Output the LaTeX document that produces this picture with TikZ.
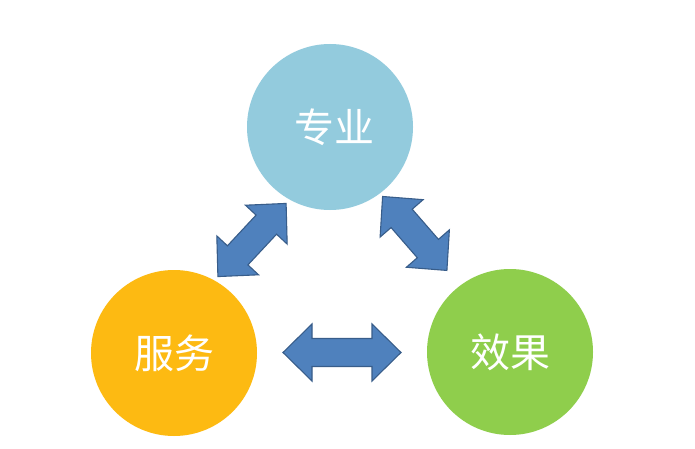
\documentclass[tikz,border=0pt]{standalone}
\usepackage{fontspec}
\usepackage{tikz}
\usetikzlibrary{calc}
\newfontfamily\cjk{Noto Sans CJK SC}

\definecolor{topblue}{RGB}{147,203,221}
\definecolor{goldorange}{RGB}{253,186,18}
\definecolor{leafgreen}{RGB}{143,206,76}
\definecolor{arrowfill}{RGB}{79,129,189}
\definecolor{arrowedge}{RGB}{56,93,138}

\tikzset{
  bubble/.style={circle, minimum size=166pt, inner sep=0pt,
    font=\cjk\fontsize{40}{42}\selectfont, text=white},
  arrowbox/.style={fill=arrowfill, draw=arrowedge, line width=1.1pt, line join=miter},
  pics/dblarrow/.style={code={
    % half length #1, head 29, head half width 28.5, shaft half width 14
    \draw[arrowbox] ({-#1},0) -- ({-#1+29},28.5) -- ({-#1+29},14)
      -- ({#1-29},14) -- ({#1-29},28.5) -- ({#1},0)
      -- ({#1-29},-28.5) -- ({#1-29},-14) -- ({-#1+29},-14)
      -- ({-#1+29},-28.5) -- cycle;
  }}
}

\begin{document}
\begin{tikzpicture}[x=1pt, y=1pt]

  % canvas
  \fill[white] (0,0) rectangle (695,448);
  \useasboundingbox (0,0) rectangle (695,448);

  % the three circles
  \node[bubble, fill=topblue]    (zhuanye) at (330,321) {\hspace*{8pt}专业};
  \node[bubble, fill=goldorange] (fuwu)    at (174,95)  {服务};
  \node[bubble, fill=leafgreen]  (xiaoguo) at (510,96)  {效果};

  % double arrows between the circles
  \pic[rotate=47]                  at ($(zhuanye)!0.5!(fuwu)$)    {dblarrow=50};
  \pic[rotate=-49, xshift=-8pt]    at ($(zhuanye)!0.5!(xiaoguo)$) {dblarrow=49};
  \pic                             at ($(fuwu)!0.5!(xiaoguo)$)    {dblarrow=59};

\end{tikzpicture}
\end{document}
